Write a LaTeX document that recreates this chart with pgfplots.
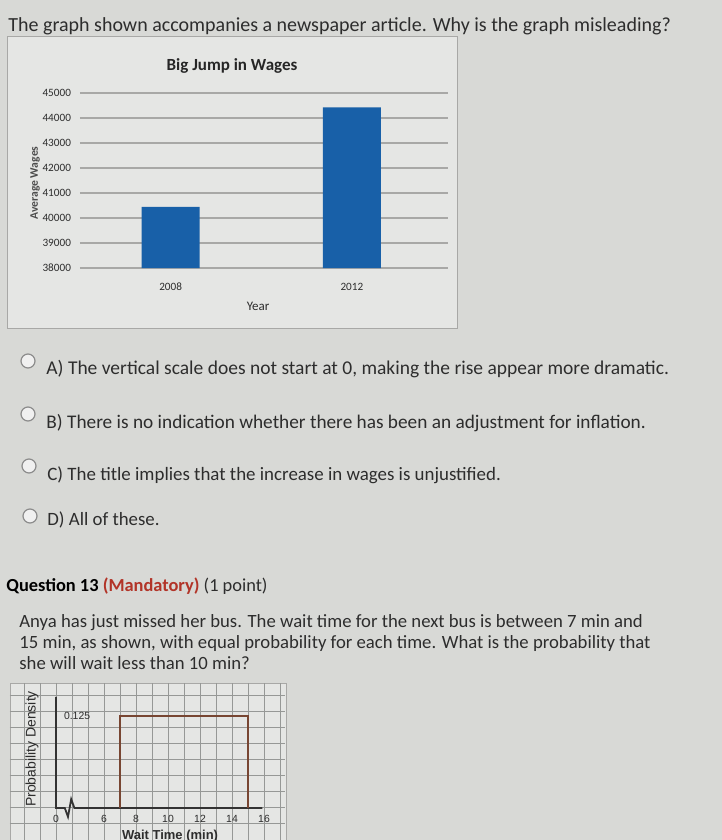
\documentclass[border=0pt]{standalone}
\usepackage{pgfplots}
\pgfplotsset{compat=1.18}
\usepackage{fontspec}
\setmainfont{Carlito}
\newfontfamily\arialf{Liberation Sans}
\definecolor{bg}{RGB}{216,217,214}
\definecolor{panel}{RGB}{229,230,228}
\definecolor{txt}{RGB}{45,45,45}
\definecolor{barblue}{RGB}{24,96,168}
\definecolor{mand}{RGB}{178,52,40}
\definecolor{gridc}{RGB}{168,168,166}
\definecolor{gridd}{RGB}{150,152,150}
\definecolor{rectc}{RGB}{120,70,50}
\begin{document}
\begin{tikzpicture}
\useasboundingbox (0,0) rectangle (361pt,-420pt);
\begin{scope}[x=0.5pt,y=-0.5pt]
\fill[bg] (0,0) rectangle (722,840);
\fill[panel] (7,37) rectangle (457,328);
\draw[gridc, line width=0.5pt] (7,37) rectangle (457,328);
\fill[panel] (10,683) rectangle (286,840);
\draw[gridc, line width=0.5pt] (10,683) rectangle (286,845);
\end{scope}

% ---------- bar chart ----------
\begin{axis}[at={(40pt,-134pt)}, anchor=south west, scale only axis,
  width=184pt, height=87.5pt,
  ymin=38000, ymax=45000, xmin=-0.5, xmax=1.53,
  ytick={38000,39000,...,45000},
  xtick={0,1}, xticklabels={2008,2012},
  ybar, bar width=29pt,
  ymajorgrids, grid style={gridc, line width=0.6pt},
  axis line style={draw=none}, major tick length=0pt,
  scaled y ticks=false,
  /pgf/number format/1000 sep={},
  /pgf/number format/assume math mode=true,
  tick label style={font=\fontsize{5.6}{6.5}\selectfont, text=txt},
  xticklabel style={yshift=-4pt},
  yticklabel style={xshift=-1pt},
  title={Big Jump in Wages},
  title style={font=\bfseries\fontsize{8.5}{10}\selectfont, text=black!85,
    at={(axis description cs:0.413,1)}, anchor=center, yshift=7.5pt},
  xlabel={Year},
  xlabel style={font=\fontsize{6.5}{7.5}\selectfont, text=txt,
    at={(axis description cs:0.484,0)}, anchor=center, yshift=-19pt},
  ylabel={Average Wages},
  ylabel style={font=\bfseries\fontsize{5.8}{7}\selectfont, text=black!70,
    at={(axis description cs:-0.122,0.486)}, anchor=center},
]
\addplot[fill=barblue, draw=none] coordinates {(0,40450) (1,44420)};
\end{axis}

% ---------- density chart ----------
\begin{axis}[at={(4.8pt,-420pt)}, anchor=south west, scale only axis,
  width=137.6pt, height=78.5pt,
  xmin=-2.9, xmax=14.3, ymin=-0.0435, ymax=0.1698,
  axis lines=middle, axis line style={draw=none},
  hide obscured x ticks=false, hide obscured y ticks=false,
  xtick={0,3,5,7,9,11,13}, xticklabels={0,6,8,10,12,14,16},
  ytick={0.125}, yticklabels={0.125},
  major tick length=0pt, minor tick length=0pt,
  minor xtick={-2,...,14},
  minor ytick={-0.021739,0,0.021739,0.043478,0.065217,0.086957,0.108696,0.130435,0.152174},
  grid=minor, minor grid style={gridd, line width=0.5pt},
  /pgf/number format/assume math mode=true,
  tick label style={font=\arialf\fontsize{5.2}{6}\selectfont, text=txt},
  xticklabel style={anchor=north, yshift=-2.5pt, inner sep=1pt},
  yticklabel style={anchor=west, xshift=0.5pt},
  xlabel={Wait Time (min)},
  xlabel style={font=\arialf\bfseries\fontsize{6.5}{7.5}\selectfont, text=txt,
    at={(axis description cs:0.583,0.067)}, anchor=north, inner sep=0pt},
  ylabel={Probability Density},
  ylabel style={font=\arialf\fontsize{7}{8}\selectfont, text=txt,
    at={(axis description cs:0.081,0.58)}, anchor=center, rotate=90},
]
\addplot[black!80, line width=0.9pt] coordinates {(0,0.151) (0,0) (0.55,0) (0.75,-0.012) (0.95,0.012) (1.15,0) (12.9,0)};
\addplot[rectc, line width=0.6pt] coordinates {(4,0) (4,0.125) (12,0.125) (12,0)};
\end{axis}

% ---------- text ----------
\begin{scope}[x=0.5pt,y=-0.5pt]
\tikzset{t/.style={anchor=base west, inner sep=0pt, text=txt}}
\node[t, font=\fontsize{10}{12}\selectfont] at (8,32) {The graph shown accompanies a newspaper article. Why is the graph misleading?};
\foreach \cx/\cy in {28/361, 28/414, 29/466, 30/516}
  \draw[black!45, line width=0.6pt, fill=white!94!black] (\cx,\cy) circle (7);
\node[t, font=\fontsize{9.75}{11}\selectfont] at (46,374) {A) The vertical scale does not start at 0, making the rise appear more dramatic.};
\node[t, font=\fontsize{9.65}{11}\selectfont] at (46,428) {B) There is no indication whether there has been an adjustment for inflation.};
\node[t, font=\fontsize{9.45}{11}\selectfont] at (47,480) {C) The title implies that the increase in wages is unjustified.};
\node[t, font=\fontsize{9.4}{11}\selectfont] at (47,525) {D) All of these.};
\node[t, font=\fontsize{9.2}{11}\selectfont] at (6,591) {\textbf{\color{black}Question 13} \textbf{\color{mand}(Mandatory)} (1 point)};
\node[t, font=\fontsize{9.35}{11}\selectfont] at (19,627) {Anya has just missed her bus. The wait time for the next bus is between 7 min and};
\node[t, font=\fontsize{9.35}{11}\selectfont] at (19,648) {15 min, as shown, with equal probability for each time. What is the probability that};
\node[t, font=\fontsize{9.35}{11}\selectfont] at (19,669) {she will wait less than 10 min?};
\end{scope}
\end{tikzpicture}
\end{document}
